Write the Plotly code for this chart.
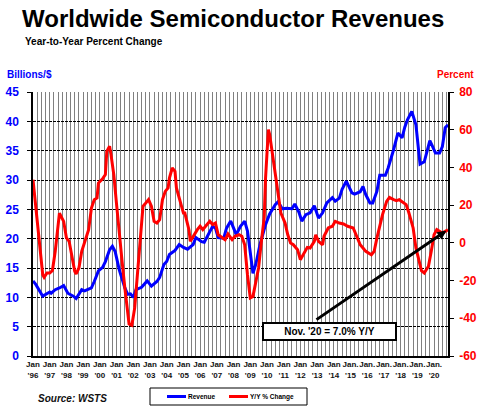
import plotly.graph_objects as go

# ---------------- data ----------------
rev_dates = ["1996-01", "1996-03", "1996-08", "1997-01", "1997-02", "1997-05", "1997-08", "1997-11",
             "1998-02", "1998-06", "1998-08", "1998-12", "1999-02", "1999-07", "1999-09", "1999-12",
             "2000-03", "2000-05", "2000-08", "2000-10", "2000-12", "2001-03", "2001-07", "2001-09",
             "2001-11", "2002-01", "2002-03", "2002-07", "2002-11", "2003-02", "2003-06", "2003-08",
             "2003-11", "2004-01", "2004-03", "2004-07", "2004-10", "2005-01", "2005-04", "2005-08",
             "2005-10", "2006-02", "2006-04", "2006-07", "2006-10", "2006-12", "2007-02", "2007-06",
             "2007-08", "2007-11", "2008-03", "2008-06", "2008-09", "2008-11", "2009-01", "2009-03",
             "2009-05", "2009-08", "2009-12", "2010-03", "2010-07", "2010-09", "2010-12", "2011-03",
             "2011-07", "2011-09", "2011-12", "2012-02", "2012-05", "2012-08", "2012-11", "2013-02",
             "2013-05", "2013-08", "2013-12", "2014-02", "2014-05", "2014-07", "2014-10", "2015-02",
             "2015-04", "2015-08", "2015-10", "2015-12", "2016-03", "2016-05", "2016-08", "2016-10",
             "2017-02", "2017-04", "2017-08", "2017-11", "2018-02", "2018-04", "2018-06", "2018-09",
             "2018-12", "2019-02", "2019-03", "2019-06", "2019-09", "2019-10", "2019-12", "2020-02",
             "2020-05", "2020-07", "2020-09", "2020-11"]
revenue = [12.8, 12.2, 10.2, 10.9, 10.7, 11.3, 11.6, 12.0,
           10.7, 10.2, 9.8, 11.3, 11.1, 11.6, 12.7, 14.5,
           15.1, 16.1, 18.1, 18.7, 17.8, 14.7, 11.6, 10.5,
           10.6, 10.0, 11.3, 11.7, 12.8, 11.9, 12.7, 13.4,
           15.6, 16.1, 17.3, 18.0, 19.0, 18.5, 18.2, 19.0,
           20.2, 19.5, 19.4, 20.7, 22.1, 21.8, 20.2, 20.1,
           21.8, 23.0, 20.7, 22.1, 23.0, 21.3, 17.3, 14.1,
           15.6, 19.0, 22.4, 24.2, 25.8, 26.3, 25.1, 25.2,
           25.1, 25.9, 24.5, 23.0, 24.1, 24.4, 25.6, 23.5,
           24.4, 26.1, 27.0, 26.4, 26.9, 28.4, 29.8, 27.8,
           27.6, 28.0, 28.9, 27.5, 26.1, 26.1, 28.1, 30.8,
           30.8, 32.0, 35.2, 38.0, 37.2, 39.0, 40.3, 41.7,
           39.4, 34.6, 32.7, 33.1, 35.5, 36.7, 35.7, 34.6,
           34.6, 35.7, 38.9, 39.4]

yoy_dates = ["1996-01", "1996-03", "1996-06", "1996-08", "1996-09", "1996-11", "1997-01", "1997-03",
             "1997-05", "1997-07", "1997-08", "1997-11", "1998-01", "1998-03", "1998-05", "1998-07",
             "1998-08", "1998-10", "1998-12", "1999-03", "1999-05", "1999-07", "1999-09", "1999-11",
             "1999-12", "2000-03", "2000-05", "2000-06", "2000-08", "2000-09", "2000-11", "2001-01",
             "2001-03", "2001-05", "2001-07", "2001-09", "2001-10", "2001-12", "2002-02", "2002-04",
             "2002-06", "2002-08", "2002-10", "2002-12", "2003-02", "2003-04", "2003-06", "2003-08",
             "2003-10", "2003-12", "2004-02", "2004-03", "2004-05", "2004-07", "2004-08", "2004-11",
             "2005-01", "2005-02", "2005-05", "2005-06", "2005-08", "2005-11", "2006-01", "2006-03",
             "2006-06", "2006-08", "2006-10", "2006-12", "2007-02", "2007-05", "2007-07", "2007-09",
             "2007-12", "2008-02", "2008-05", "2008-07", "2008-09", "2008-11", "2009-01", "2009-03",
             "2009-05", "2009-07", "2009-09", "2009-11", "2009-12", "2010-02", "2010-03", "2010-05",
             "2010-07", "2010-09", "2010-11", "2010-12", "2011-02", "2011-04", "2011-06", "2011-08",
             "2011-11", "2012-01", "2012-03", "2012-06", "2012-08", "2012-11", "2012-12", "2013-02",
             "2013-05", "2013-06", "2013-09", "2013-12", "2014-02", "2014-05", "2014-08", "2014-11",
             "2015-03", "2015-05", "2015-08", "2015-10", "2015-12", "2016-04", "2016-06", "2016-08",
             "2016-10", "2016-12", "2017-03", "2017-05", "2017-08", "2017-10", "2017-12", "2018-03",
             "2018-05", "2018-07", "2018-10", "2018-12", "2019-02", "2019-04", "2019-06", "2019-09",
             "2019-11", "2020-01", "2020-03", "2020-05", "2020-07", "2020-09", "2020-11"]
yoy_change = [33.5, 18.5, -1.0, -16.9, -18.3, -16.0, -16.0, -14.7,
              -4.5, 11.4, 15.8, 11.4, 2.6, 0.8, -6.3, -15.1,
              -16.5, -13.3, -4.5, 2.6, 7.0, 18.5, 22.9, 23.8,
              31.7, 34.0, 36.2, 48.5, 51.2, 46.8, 36.2, 20.3,
              4.3, -9.8, -24.0, -38.0, -43.0, -43.7, -34.5, -16.9,
              2.6, 19.4, 21.1, 22.9, 19.4, 11.4, 10.5, 12.3,
              22.9, 27.3, 29.1, 34.4, 39.7, 37.9, 29.1, 20.3,
              15.8, 15.8, 7.0, 0.8, 3.5, 7.0, 8.8, 7.0,
              9.7, 11.4, 9.7, 10.5, 4.3, 2.9, 1.7, 4.7,
              1.7, 3.5, 4.3, 3.5, -1.0, -16.9, -29.2, -28.4,
              -20.4, -13.3, 0.8, 13.2, 34.4, 60.0, 57.4, 46.8,
              35.3, 23.8, 15.8, 14.1, 10.5, 4.3, -0.1, -1.0,
              -3.6, -8.9, -6.3, -2.4, -2.7, 0.8, 4.3, 0.8,
              -1.0, 3.5, 7.9, 8.8, 11.4, 10.5, 10.0, 8.8,
              7.9, 4.3, -1.0, -2.7, -4.5, -6.3, -4.5, 2.6,
              8.8, 15.0, 22.0, 24.1, 22.9, 22.4, 22.9, 21.1,
              20.3, 15.8, 7.9, -2.7, -9.8, -14.7, -16.0, -12.4,
              -4.5, 4.3, 7.0, 6.1, 5.2, 6.1, 7.0]

series_names = ["Revenue", "Y/Y % Change"]

tick_years = list(range(1996, 2021))
tick_vals = [f"{y}-01-01" for y in tick_years]
tick_text = ["<b>" + ("Jan" if y < 2015 else "Jan.") + "<br>'" + str(y)[2:] + "</b>" for y in tick_years]

left_ticks = [0, 5, 10, 15, 20, 25, 30, 35, 40, 45]
right_ticks = [-60, -40, -20, 0, 20, 40, 60, 80]

FONT = "Liberation Sans, Arial, sans-serif"
BLUE = "#0000FF"
RED = "#FF0000"

# plot-area geometry in pixels (used to place decorations in paper coordinates)
PL, PR, PT, PB = 33, 448, 92, 356
PW, PH = PR - PL, PB - PT


def px(xp):
    return (xp - PL) / PW


def py(yp):
    return (PB - yp) / PH


fig = go.Figure()
fig.add_trace(go.Scatter(x=[d + "-01" for d in rev_dates], y=revenue, mode="lines",
                         name=series_names[0], line=dict(color=BLUE, width=3), yaxis="y",
                         showlegend=False))
fig.add_trace(go.Scatter(x=[d + "-01" for d in yoy_dates], y=yoy_change, mode="lines",
                         name=series_names[1], line=dict(color=RED, width=3), yaxis="y2",
                         showlegend=False))

last_x = yoy_dates[-1] + "-01"
last_y = yoy_change[-1]

fig.update_layout(
    width=479, height=410,
    margin=dict(l=PL, r=479 - PR, t=PT, b=410 - PB, autoexpand=False),
    paper_bgcolor="white", plot_bgcolor="white",
    font=dict(family=FONT, color="black"),
    title=dict(text="<b>Worldwide Semiconductor Revenues</b>", x=22 / 479, xanchor="left",
               xref="container", y=1 - 19 / 410, yanchor="middle", yref="container",
               font=dict(size=24, color="black", family=FONT)),
    xaxis=dict(type="date", range=["1996-01-01", last_x], automargin=False,
               tickmode="array", tickvals=tick_vals, ticktext=tick_text,
               tickfont=dict(size=8, color="#111111", family=FONT), tickangle=0,
               showgrid=True, gridcolor="#808080", gridwidth=1,
               minor=dict(dtick="M3", tick0="1996-01-01", showgrid=True,
                          gridcolor="#808080", gridwidth=1),
               showline=True, linecolor="black", linewidth=1.5, ticks="", zeroline=False),
    yaxis=dict(range=[0, 45], tickmode="array", tickvals=left_ticks,
               ticktext=[f"<b>{v}</b>" for v in left_ticks], automargin=False,
               tickfont=dict(size=12, color=BLUE, family=FONT),
               showgrid=True, gridcolor="black", gridwidth=1, griddash="3px,1px",
               showline=True, linecolor="black", linewidth=1.5,
               ticks="outside", ticklen=4, tickcolor="black", ticklabelstandoff=6,
               zeroline=False),
    yaxis2=dict(range=[-60, 80], tickmode="array", tickvals=right_ticks,
                ticktext=[f"<b>{v}</b>" for v in right_ticks], automargin=False,
                overlaying="y", side="right",
                tickfont=dict(size=12, color=RED, family=FONT),
                showgrid=False, showline=True, linecolor="black", linewidth=1.5,
                ticks="outside", ticklen=4, tickcolor="black", ticklabelstandoff=3,
                zeroline=False),
    showlegend=False,
)

fig.add_annotation(text="<b>Year-to-Year Percent Change</b>", xref="paper", yref="paper",
                   x=px(23), y=py(41), xanchor="left", yanchor="middle",
                   showarrow=False, font=dict(size=10, color="black", family=FONT))
fig.add_annotation(text="<b>Billions/$</b>", xref="paper", yref="paper",
                   x=px(5), y=py(75), xanchor="left", yanchor="middle",
                   showarrow=False, font=dict(size=10, color=BLUE, family=FONT))
fig.add_annotation(text="<b>Percent</b>", xref="paper", yref="paper",
                   x=px(476), y=py(74), xanchor="right", yanchor="middle",
                   showarrow=False, font=dict(size=10, color=RED, family=FONT))
fig.add_annotation(text="<b><i>Source: WSTS</i></b>", xref="paper", yref="paper",
                   x=px(36), y=py(398), xanchor="left", yanchor="middle",
                   showarrow=False, font=dict(size=10, color="#111111", family=FONT))

# legend box (drawn as a framed key below the chart)
fig.add_shape(type="rect", xref="paper", yref="paper", x0=px(150), x1=px(307),
              y0=py(405), y1=py(388), line=dict(color="black", width=1), fillcolor="white")
for (sx, col, name) in [(167, BLUE, series_names[0]), (229, RED, series_names[1])]:
    fig.add_shape(type="line", xref="paper", yref="paper", x0=px(sx), x1=px(sx + 19),
                  y0=py(396.5), y1=py(396.5), line=dict(color=col, width=3))
    fig.add_annotation(text="<b>" + name + "</b>", xref="paper", yref="paper",
                       x=px(sx + 19), y=py(396.5), xanchor="left", yanchor="middle",
                       showarrow=False, font=dict(size=6.5, color="black", family=FONT))

# arrow pointing at the last Y/Y value
fig.add_annotation(text="", x=last_x, y=last_y, xref="x", yref="y2",
                   showarrow=True, axref="pixel", ayref="pixel", ax=-133, ay=91,
                   arrowhead=2, arrowsize=0.6, arrowwidth=3, arrowcolor="black", standoff=2)
# label box
fig.add_annotation(text="<b>Nov. '20 = 7.0% Y/Y</b>", xref="paper", yref="paper",
                   x=px(329.5), y=py(331.5), xanchor="center", yanchor="middle",
                   showarrow=False, font=dict(size=10, color="black", family=FONT),
                   bgcolor="white", bordercolor="black", borderwidth=2, borderpad=1,
                   width=129, height=13)

fig.write_html("out.html", config={"displayModeBar": False},
               post_script="document.body.style.margin='0px';document.body.style.overflow='hidden';")
